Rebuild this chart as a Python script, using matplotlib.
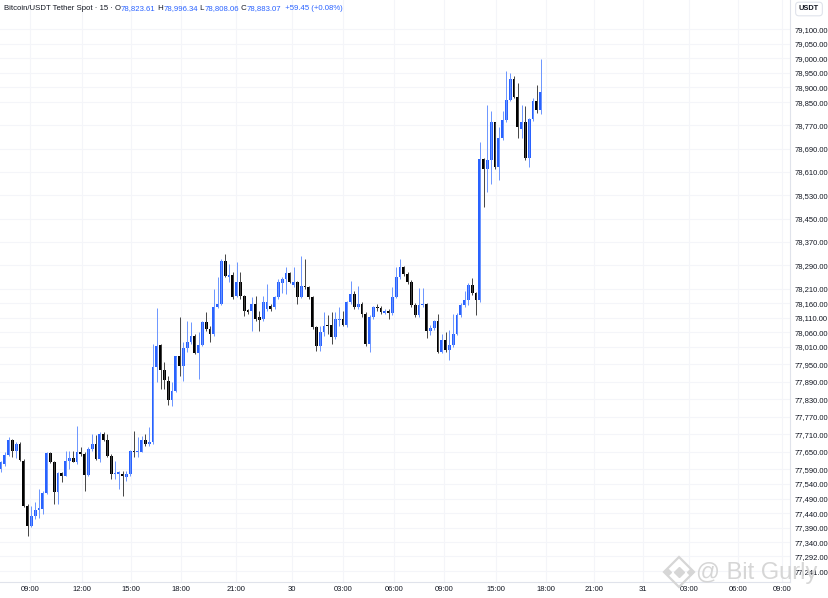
import matplotlib
matplotlib.use('Agg')
import matplotlib.pyplot as plt
import numpy as np

plt.rcParams['font.family'] = ['Liberation Sans', 'DejaVu Sans']

# BTC/USDT 15m candles
opens = [77592, 77609, 77640, 77691, 77654, 77677, 77620, 77466, 77395, 77431,
         77452, 77454, 77509, 77645, 77617, 77514, 77578, 77569, 77620, 77628,
         77614, 77649, 77642, 77571, 77660, 77677, 77626, 77712, 77692, 77635,
         77574, 77574, 77574, 77563, 77574, 77652, 77649, 77651, 77692, 77677,
         77683, 77940, 78017, 77932, 77893, 77829, 77860, 77978, 77944, 78008,
         78026, 78046, 77989, 78017, 78097, 78072, 78054, 78146, 78157, 78306,
         78249, 78257, 78186, 78232, 78184, 78137, 78135, 78157, 78112, 78106,
         78140, 78149, 78146, 78180, 78228, 78243, 78263, 78224, 78232, 78180,
         78219, 78215, 78180, 78078, 78015, 78060, 78087, 78087, 78043, 78103,
         78106, 78086, 78163, 78192, 78146, 78158, 78123, 78020, 78112, 78148,
         78144, 78128, 78132, 78126, 78180, 78249, 78283, 78260, 78234, 78154,
         78120, 78154, 78156, 78065, 78074, 78099, 77994, 78034, 77999, 78017,
         78053, 78120, 78154, 78171, 78223, 78194, 78171, 78653, 78622, 78651,
         78780, 78628, 78726, 78789, 78858, 78929, 78867, 78757, 78780, 78657,
         78791, 78855, 78823.61]
highs = [77620, 77649, 77700, 77694, 77683, 77683, 77626, 77472, 77466, 77477,
         77523, 77517, 77649, 77649, 77620, 77580, 77580, 77654, 77654, 77654,
         77740, 77666, 77649, 77666, 77712, 77708, 77717, 77717, 77712, 77643,
         77620, 77586, 77586, 77586, 77658, 77723, 77700, 77706, 77712, 77734,
         78020, 78143, 78020, 77957, 77911, 77889, 77978, 78112, 78026, 78100,
         78097, 78054, 78060, 78100, 78129, 78083, 78209, 78249, 78312, 78329,
         78295, 78266, 78300, 78266, 78188, 78140, 78180, 78186, 78135, 78186,
         78226, 78157, 78186, 78243, 78249, 78283, 78266, 78286, 78238, 78323,
         78312, 78220, 78186, 78083, 78083, 78129, 78118, 78129, 78129, 78146,
         78135, 78169, 78238, 78203, 78220, 78163, 78129, 78118, 78152, 78158,
         78152, 78140, 78140, 78215, 78283, 78312, 78289, 78266, 78240, 78160,
         78211, 78211, 78160, 78085, 78103, 78122, 78053, 78062, 78068, 78122,
         78125, 78160, 78202, 78228, 78246, 78200, 78714, 78657, 78840, 78818,
         78783, 78766, 78818, 78955, 78950, 78938, 78915, 78840, 78835, 78795,
         78863, 78909, 78996.34]
lows = [77580, 77603, 77635, 77632, 77628, 77620, 77460, 77363, 77391, 77420,
        77422, 77437, 77506, 77612, 77472, 77472, 77546, 77566, 77592, 77614,
        77609, 77637, 77517, 77569, 77654, 77624, 77617, 77688, 77633, 77557,
        77557, 77523, 77498, 77552, 77569, 77632, 77632, 77649, 77672, 77672,
        77677, 77889, 77866, 77866, 77811, 77809, 77854, 77911, 77894, 77992,
        78020, 77986, 77900, 78014, 78066, 78026, 78049, 78143, 78154, 78249,
        78232, 78175, 78180, 78175, 78117, 78123, 78066, 78100, 78066, 78100,
        78135, 78135, 78140, 78175, 78194, 78192, 78228, 78217, 78158, 78178,
        78209, 78175, 78072, 77997, 77997, 78049, 78055, 78020, 78038, 78083,
        78083, 78080, 78158, 78140, 78140, 78112, 78015, 77992, 78106, 78135,
        78123, 78123, 78106, 78121, 78178, 78243, 78255, 78226, 78148, 78114,
        78114, 78148, 78040, 78051, 78068, 77991, 77991, 77994, 77965, 78011,
        78051, 78114, 78148, 78154, 78188, 78120, 78165, 78490, 78542, 78570,
        78622, 78582, 78720, 78783, 78852, 78863, 78726, 78726, 78651, 78628,
        78786, 78812, 78808.06]
closes = [77614, 77640, 77691, 77654, 77677, 77624, 77466, 77395, 77431, 77451,
          77457, 77509, 77645, 77617, 77514, 77577, 77569, 77620, 77628, 77617,
          77649, 77642, 77571, 77660, 77677, 77626, 77712, 77692, 77635, 77574,
          77577, 77580, 77566, 77574, 77654, 77649, 77652, 77692, 77677, 77683,
          77940, 78014, 77932, 77898, 77829, 77860, 77978, 77944, 78008, 78026,
          78046, 77989, 78017, 78097, 78072, 78054, 78146, 78157, 78306, 78255,
          78257, 78180, 78232, 78184, 78135, 78131, 78157, 78106, 78104, 78163,
          78163, 78140, 78180, 78232, 78243, 78263, 78232, 78232, 78180, 78220,
          78215, 78180, 78078, 78015, 78060, 78083, 78082, 78043, 78106, 78106,
          78086, 78163, 78192, 78146, 78158, 78123, 78020, 78112, 78146, 78144,
          78129, 78132, 78126, 78180, 78249, 78283, 78260, 78232, 78154, 78120,
          78154, 78157, 78065, 78074, 78099, 77994, 78034, 77999, 78017, 78053,
          78120, 78154, 78171, 78223, 78194, 78171, 78653, 78622, 78651, 78780,
          78628, 78726, 78789, 78858, 78929, 78867, 78764, 78780, 78657, 78791,
          78855, 78823, 78883.07]

price_ticks = [79100, 79050, 79000, 78950, 78900, 78850, 78770, 78690, 78610,
               78530, 78450, 78370, 78290, 78210, 78160, 78110, 78060, 78010,
               77950, 77890, 77830, 77770, 77710, 77650, 77590, 77540, 77490,
               77440, 77390, 77340, 77292, 77241]
time_labels = ['09:00', '12:00', '15:00', '18:00', '21:00', '30', '03:00', '06:00',
               '09:00', '15:00', '18:00', '21:00', '31', '03:00', '06:00', '09:00']
time_pos = [7.6, 21.3, 34.2, 47.4, 61.8, 76.6, 90, 103.4, 116.6, 130.3, 143.4,
            156, 169, 181, 194, 205.5]

UP = '#2962ff'
DOWN = '#000000'
TXT = '#131722'

o = np.array(opens)
h = np.array(highs)
l = np.array(lows)
c = np.array(closes)
x = np.arange(len(o))
up = c >= o

fig = plt.figure(figsize=(8.29, 5.98), dpi=100)
ax = fig.add_axes([0, 16 / 598, 790 / 829, 582 / 598])

ax.vlines(x, l, h, colors=np.where(up, '#6b95ff', '#444444'), linewidth=0.7)
body_lo = np.minimum(o, c)
body_h = np.maximum(np.abs(c - o), 3)
ax.bar(x, body_h, bottom=body_lo, width=0.74, color=np.where(up, UP, DOWN), linewidth=0)

ax.set_xlim(-0.26, 207.6)
ax.set_ylim(77204, 79200)

ax.yaxis.tick_right()
ax.set_yticks(price_ticks, [f'{v:,.2f}' for v in price_ticks])
ax.set_xticks(time_pos, time_labels)
ax.tick_params(axis='both', length=0, labelsize=5.5, labelcolor=TXT)
ax.tick_params(axis='y', pad=3.5)
ax.tick_params(axis='x', pad=3)
ax.grid(color='#f4f5f9', linewidth=0.8)
ax.set_axisbelow(True)
for s in ['top', 'left']:
    ax.spines[s].set_visible(False)
for s in ['right', 'bottom']:
    ax.spines[s].set_color('#e0e3eb')
    ax.spines[s].set_linewidth(0.8)

# overlay in pixel coords for legend / badges / watermark
ov = fig.add_axes([0, 0, 1, 1], zorder=5)
ov.set_xlim(0, 829)
ov.set_ylim(598, 0)
ov.axis('off')

pieces = [('Bitcoin/USDT Tether Spot · 15 · O', TXT), ('78,823.61', UP),
          (' H', TXT), ('78,996.34', UP), (' L', TXT), ('78,808.06', UP),
          (' C', TXT), ('78,883.07', UP), ('  +59.45 (+0.08%)', UP)]
prev = ov.text(4, 12, pieces[0][0], color=pieces[0][1], fontsize=5.6, va='bottom', ha='left')
for txt, col in pieces[1:]:
    prev = ov.annotate(txt, xy=(1, 0), xycoords=prev, color=col, fontsize=5.6,
                       va='bottom', ha='left')

ov.text(809, 9, 'USDT', ha='center', va='center', fontsize=5.3, fontweight='bold', color=TXT,
        bbox=dict(boxstyle='round,pad=0.45', fc='white', ec='#e0e3eb', lw=0.8))

wm = '#d6d6d6'
ov.plot([679], [572], marker='D', ms=15, mfc='none', mec=wm, mew=1.6)
ov.plot([679], [572], marker='D', ms=5, color=wm)
ov.plot([668, 690], [572, 572], marker='D', ms=3, color=wm, linestyle='none')
ov.text(696, 573, '@ Bit Gurly', fontsize=17, color=wm, va='center', ha='left')

fig.savefig('out.png', dpi=100, facecolor='white')
